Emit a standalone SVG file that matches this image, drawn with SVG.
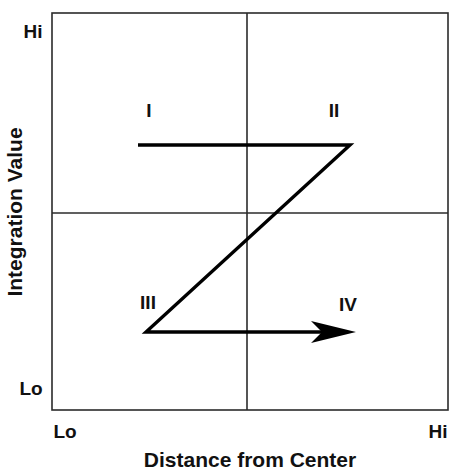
<svg xmlns="http://www.w3.org/2000/svg" width="474" height="472" viewBox="0 0 474 472">
<style>
.frame{fill:none;stroke:#2b2b2b;stroke-width:1.6}
.path{fill:none;stroke:#000;stroke-width:3.4;stroke-linejoin:miter}
.t{font-family:"Liberation Sans",Arial,sans-serif;font-weight:bold;fill:#111}
.s{font-size:19px}
.l{font-size:21px}
</style>
<rect width="474" height="472" fill="#fff"/>
<g id="frame">
<rect class="frame" x="52" y="13" width="396" height="397"/>
<line class="frame" x1="247" y1="13" x2="247" y2="410"/>
<line class="frame" x1="52" y1="213" x2="448" y2="213"/>
</g>
<g id="connectors">
<polyline class="path" points="138,145 350,145 146,332 330,332"/>
<path d="M356,332 L311,321 L322,332 L311,343 Z" fill="#000"/>
</g>
<g id="labels">
<text class="t s" x="149" y="117" text-anchor="middle">I</text>
<text class="t s" x="334" y="117" text-anchor="middle">II</text>
<text class="t s" x="148" y="309" text-anchor="middle">III</text>
<text class="t s" x="348" y="311" text-anchor="middle">IV</text>
<text class="t s" x="33" y="38" text-anchor="middle">Hi</text>
<text class="t s" x="31" y="395" text-anchor="middle">Lo</text>
<text class="t s" x="65" y="438" text-anchor="middle">Lo</text>
<text class="t s" x="438" y="438" text-anchor="middle">Hi</text>
<text class="t l" x="250" y="467" text-anchor="middle">Distance from Center</text>
<text class="t l" x="0" y="0" text-anchor="middle" transform="translate(22,212) rotate(-90)">Integration Value</text>
</g>
</svg>
